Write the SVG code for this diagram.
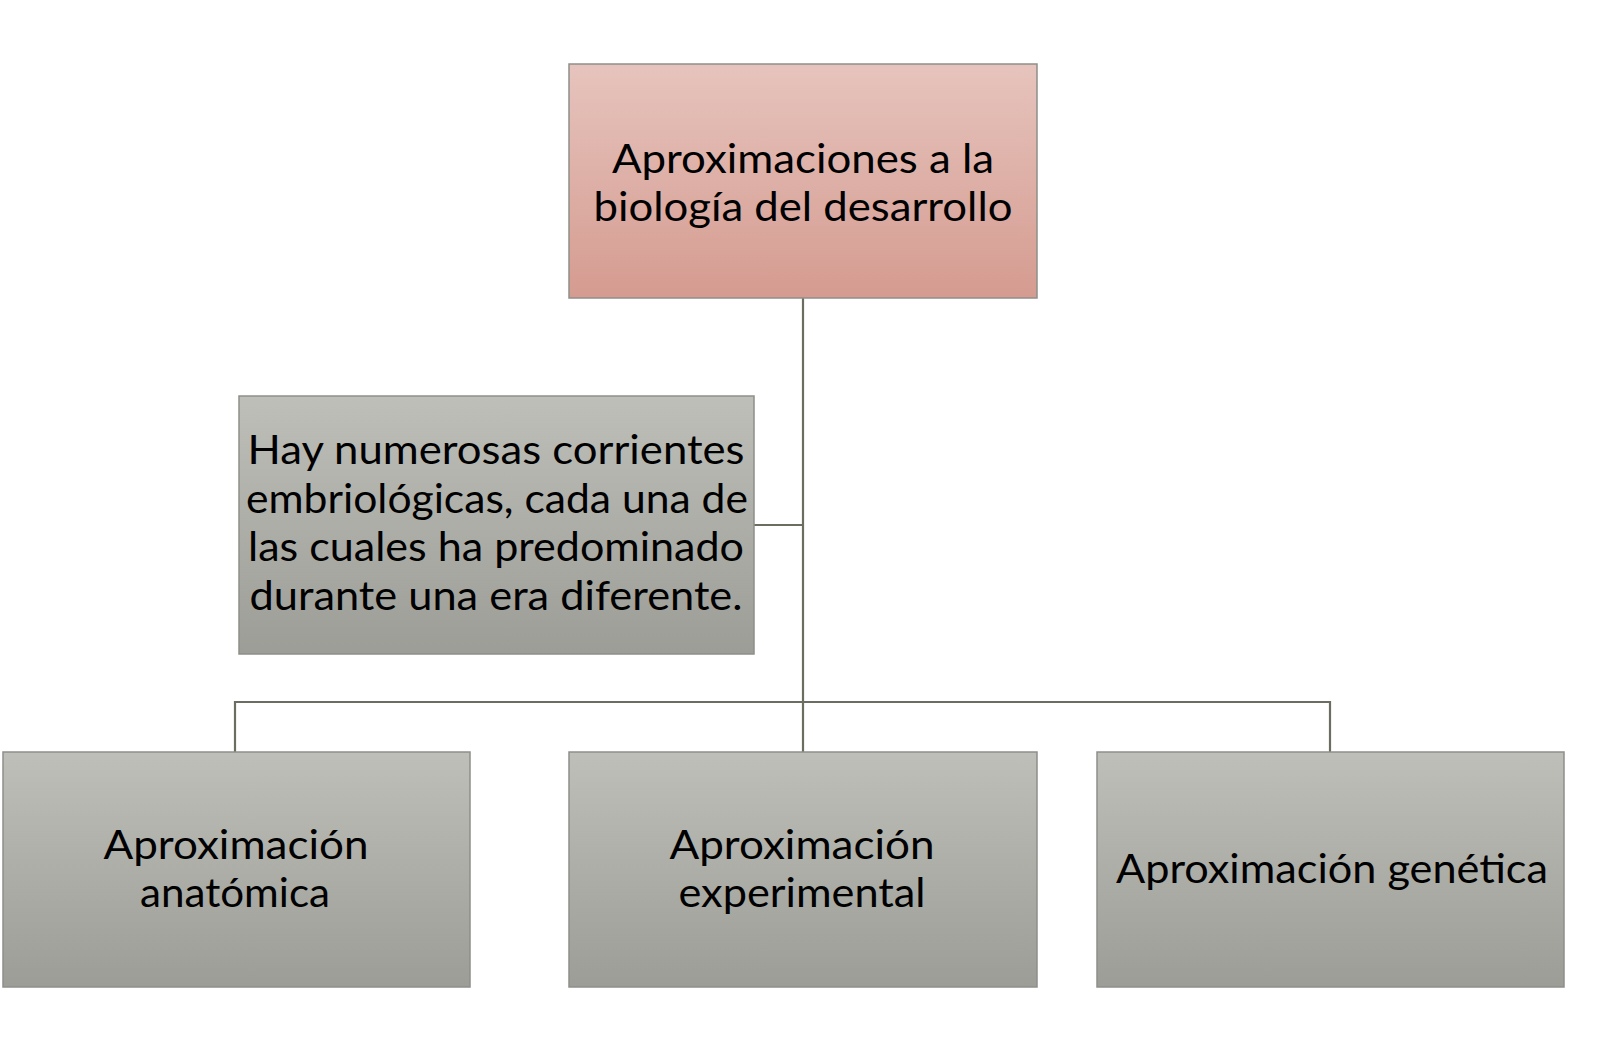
<svg xmlns="http://www.w3.org/2000/svg" width="1600" height="1049" viewBox="0 0 1600 1049">
<defs>
<linearGradient id="gRed" x1="0" y1="0" x2="0" y2="1">
<stop offset="0" stop-color="#e6c4bd"/>
<stop offset="1" stop-color="#d59b90"/>
</linearGradient>
<linearGradient id="gGray" x1="0" y1="0" x2="0" y2="1">
<stop offset="0" stop-color="#bebfb9"/>
<stop offset="1" stop-color="#9c9d96"/>
</linearGradient>
<style>
.box{stroke:#8e8e8a;stroke-width:1.5}
.red{fill:url(#gRed)}
.gray{fill:url(#gGray)}
.conn{fill:none;stroke:#6b6d60;stroke-width:2.2}
text{font-family:"Lato","Liberation Sans",sans-serif;font-size:40px;fill:#000;text-anchor:middle}
</style>
</defs>
<rect width="1600" height="1049" fill="#fff"/>
<g id="connectors">
<path class="conn" d="M803 298V752"/>
<path class="conn" d="M754 525H803"/>
<path class="conn" d="M235 752V702H1330V752"/>
</g>
<g id="node-root">
<rect class="box red" x="569" y="64" width="468" height="234"/>
<text x="803" y="173" textLength="382" lengthAdjust="spacingAndGlyphs">Aproximaciones a la</text>
<text x="803" y="221" textLength="419" lengthAdjust="spacingAndGlyphs">biología del desarrollo</text>
</g>
<g id="node-note">
<rect class="box gray" x="239" y="396" width="515" height="258"/>
<text x="496" y="464" textLength="497" lengthAdjust="spacingAndGlyphs">Hay numerosas corrientes</text>
<text x="497" y="513" textLength="502" lengthAdjust="spacingAndGlyphs">embriológicas, cada una de</text>
<text x="496" y="561" textLength="496" lengthAdjust="spacingAndGlyphs">las cuales ha predominado</text>
<text x="496" y="610" textLength="493" lengthAdjust="spacingAndGlyphs">durante una era diferente.</text>
</g>
<g id="node-anatomica">
<rect class="box gray" x="3" y="752" width="467" height="235"/>
<text x="236" y="859" textLength="265" lengthAdjust="spacingAndGlyphs">Aproximación</text>
<text x="235" y="907" textLength="190" lengthAdjust="spacingAndGlyphs">anatómica</text>
</g>
<g id="node-experimental">
<rect class="box gray" x="569" y="752" width="468" height="235"/>
<text x="802" y="859" textLength="265" lengthAdjust="spacingAndGlyphs">Aproximación</text>
<text x="802" y="907" textLength="247" lengthAdjust="spacingAndGlyphs">experimental</text>
</g>
<g id="node-genetica">
<rect class="box gray" x="1097" y="752" width="467" height="235"/>
<text x="1332" y="883" textLength="432" lengthAdjust="spacingAndGlyphs">Aproximación genética</text>
</g>
</svg>
